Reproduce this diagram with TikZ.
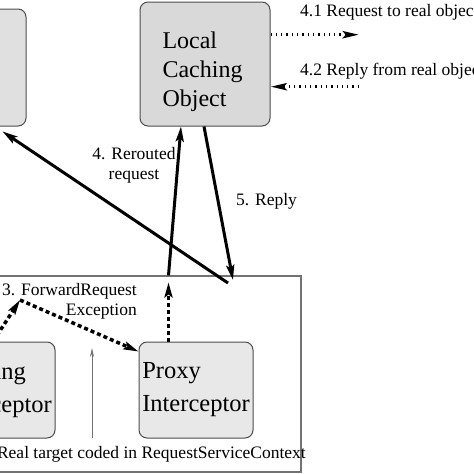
\documentclass[tikz,border=0pt]{standalone}
\usepackage{fontspec}
\setmainfont{Liberation Serif}
\usetikzlibrary{arrows.meta}

\definecolor{lcogray}{HTML}{D9D9D9}
\definecolor{clientgray}{HTML}{E0E0E0}
\definecolor{intgray}{HTML}{E8E8E8}

\begin{document}
\begin{tikzpicture}[x=1pt, y=-1pt,
		>={Stealth[length=15pt, width=8pt, inset=3pt]},
		box/.style={draw=black!70, line width=1pt, rounded corners=8pt, inner sep=0pt},
		boxtext/.style={align=left, inner sep=0pt},
		solidarrow/.style={->, line width=3pt},
		dasharrow/.style={->, line width=3.5pt, dash pattern=on 4pt off 3pt},
		dotarrow/.style={-{Stealth[length=16pt, width=7pt, inset=3pt]}, line width=3.5pt, dash pattern=on 1.3pt off 4pt},
		thinarrow/.style={-{Stealth[length=9pt, width=4pt]}, draw=black!55, line width=0.8pt},
		lbl/.style={font=\fontsize{17.5}{20}\selectfont, inner sep=0pt}]
			\useasboundingbox (0,0) rectangle (474,474);
			\clip (0,0) rectangle (474,474);
			
			\node[box, fill=clientgray, minimum width=130pt, minimum height=117pt] (client) at (-39,67.5) {};
			\node[box, fill=lcogray, minimum width=130pt, minimum height=124pt] (lco) at (205,64) {};
			\node[boxtext, font=\fontsize{24}{29}\selectfont] (lcotext) at (202.5,71.5) {Local\\Caching\\Object};
			
			\node[draw=black!55, line width=1.2pt, minimum width=330pt, minimum height=196pt, inner sep=0pt] (server) at (136,374) {};
			\node[box, fill=intgray, minimum width=114pt, minimum height=96pt, align=left, font=\fontsize{24.5}{33}\selectfont] (proxy) at (196,390) {Proxy\\Interceptor};
			\node[box, fill=intgray, minimum width=114pt, minimum height=96pt, align=left, font=\fontsize{24.5}{33}\selectfont] (cacheint) at (-2,390) {Caching\\Interceptor};
			
			\coordinate (reqend) at (359,34.7);
			\coordinate (repstart) at (359,86.7);
			\draw[dotarrow] (lco.east |- reqend) -- (reqend);
			\draw[dotarrow] (repstart) -- (lco.east |- repstart);
			
			\coordinate (pout) at ([xshift=30pt]proxy.north west);
			\coordinate (ptop) at (pout |- server.north);
			\draw[dasharrow] (pout) -- ([yshift=-7pt]ptop);
			\draw[solidarrow] (ptop) -- ([xshift=-24pt]lco.south);
			
			\coordinate (rin) at (233,280);
			\draw[solidarrow] ([xshift=-1pt]lco.south) -- (rin);
			
			\coordinate (rout) at (228,283);
			\draw[solidarrow] (rout) -- ([shift={(-24pt,-5pt)}]client.south east);
			
			\coordinate (fwdtip) at (20,300);
			\draw[dasharrow] ([xshift=-5pt]cacheint.north) -- (fwdtip);
			\draw[dasharrow] (fwdtip) -- ([yshift=-10pt]proxy.north west);
			
			\coordinate (ctx) at (92,438);
			\coordinate (ctxtip) at (92,348);
			\draw[thinarrow] (ctx) -- (ctxtip);
			
			\node[lbl, anchor=base west] (reqlabel) at (300,16) {4.1 Request to real object};
			\node[lbl, anchor=base west] (replabel) at (300,75) {4.2 Reply from real object};
			\node[lbl, align=center] (reroutelabel) at (134,165) {4. Rerouted\\request};
			\node[lbl, anchor=base west] (replylabel) at (236,205) {5. Reply};
			\node[lbl, align=right, anchor=east] (fwdlabel) at (137,301) {3. ForwardRequest\\Exception};
			\node[lbl, anchor=base east] (ctxlabel) at (306,458) {Real target coded in RequestServiceContext};
		\end{tikzpicture}
\end{document}
